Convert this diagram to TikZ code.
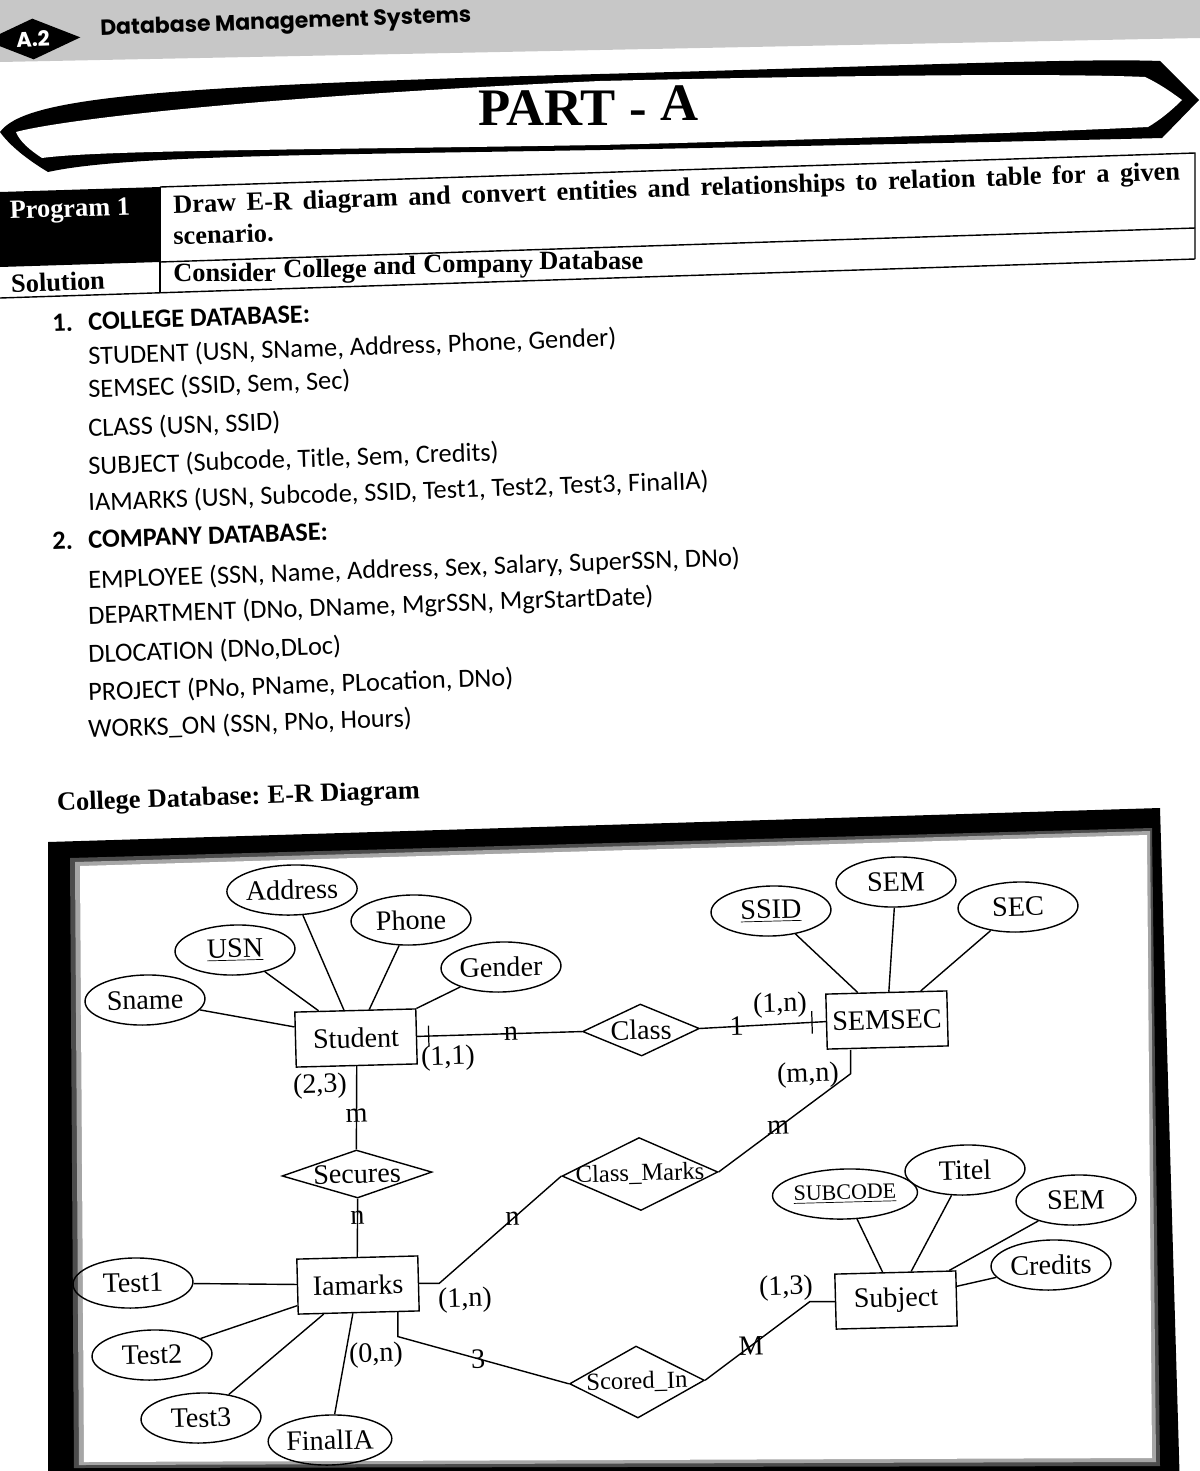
\documentclass[tikz,border=0pt]{standalone}
\usepackage{fontspec}
\setmainfont{Liberation Serif}
\newfontfamily\bodyfont{Carlito}
\newfontfamily\headfont{Poppins}
\usetikzlibrary{shapes.geometric, positioning}
\frenchspacing

\newcommand{\erfont}{\fontsize{16}{18}\selectfont}
\newcommand{\erfontsmall}{\fontsize{14}{16}\selectfont}
\newcommand{\sheetfont}{\bodyfont\fontsize{15}{18}\selectfont}
\newcommand{\cellfont}{\bfseries\fontsize{15}{18}\selectfont}

\tikzset{
  entity/.style={draw, rectangle, line width=0.8pt, minimum width=2.42cm, minimum height=1.1cm, inner sep=0pt, rotate=1.5, font=\erfont},
  attrib/.style={draw, ellipse, line width=0.8pt, minimum width=2.4cm, minimum height=1cm, inner sep=0pt, rotate=1.5, font=\erfont},
  rel/.style={draw, diamond, line width=0.8pt, inner sep=0pt, rotate=1.5, font=\erfont},
  card/.style={inner sep=0pt, rotate=1.5, font=\erfont},
  crossmark/.style={inner sep=0pt, rotate=1.5},
  link/.style={line width=0.8pt},
  listline/.style={anchor=west, inner sep=0pt, rotate=2, font=\sheetfont},
  cell/.style={inner sep=0pt, rotate=1.9, font=\cellfont},
  wordbox/.style={anchor=base west, inner sep=0pt, rotate=2, font=\cellfont},
  flatword/.style={anchor=base west, inner sep=0pt, font=\cellfont},
}

\begin{document}
\begin{tikzpicture}[x=0.02cm, y=-0.02cm]
  \useasboundingbox (0,0) rectangle (1200,1471);

  % page header
  \fill[black!22] (0,0) -- (1200,0) -- (1200,38) -- (0,62) -- cycle;
  \node[diamond, fill=black, text=white, minimum width=1.9cm, minimum height=0.82cm, inner sep=0pt, rotate=2, font=\headfont\bfseries\fontsize{12}{13}\selectfont] (badge) at (33,39) {\makebox[0pt]{A.2}};
  \node[anchor=west, inner sep=0pt, rotate=2, font=\headfont\bfseries\fontsize{12.5}{14}\selectfont] (booktitle) at (100,30) {Database Management Systems};

  % PART - A banner
  \fill[black] (0,132) .. controls (25,98) and (150,86) .. (600,74) .. controls (900,66) and (1080,58) .. (1160,61) -- (1199,100) -- (1162,138) .. controls (1000,142) and (800,146) .. (600,150) .. controls (300,155) and (120,156) .. (48,172) .. controls (28,160) and (10,146) .. (0,132) -- cycle;
  \fill[white] (16,132) .. controls (60,120) and (250,97) .. (600,81) .. controls (900,74) and (1080,74) .. (1145,77) .. controls (1162,85) and (1175,95) .. (1182,100) .. controls (1172,110) and (1160,120) .. (1148,127) .. controls (1000,134) and (800,140) .. (600,145) .. controls (300,150) and (100,150) .. (42,158) .. controls (30,150) and (20,142) .. (16,132) -- cycle;
  \node[flatword, font=\bfseries\fontsize{30}{32}\selectfont] (part1) at (478,125) {PART -};
  \node[flatword, font=\bfseries\fontsize{30}{32}\selectfont] (part2) at (660,120) {A};

  % program table
  \fill[black] (0,192) -- (160,187) -- (160,262) -- (0,267) -- cycle;
  \draw[line width=0.8pt] (160,187) -- (1195,153) -- (1195,259);
  \draw[line width=0.8pt] (160,262) -- (1195,228);
  \draw[line width=0.8pt] (0,298) -- (1195,259);
  \draw[line width=0.8pt] (160,187) -- (160,293);
  \node[cell, text=white] (prog) at (70,211) {Program 1};
  \node[cell] (sol) at (58,282) {Solution};
  \node[cell, anchor=west] (task) at (173,207) {\makebox[20.15cm][s]{Draw E-R diagram and convert entities and relationships to relation table for a given}};
  \node[cell, anchor=west] (task2) at (173,236) {scenario.};
  \node[flatword] (given1) at (173,281) {Consider};
  \node[flatword] (given2) at (283,277.4) {College};
  \node[flatword] (given3) at (373,274.4) {and};
  \node[flatword] (given4) at (423,272.8) {Company};
  \node[flatword] (given5) at (539,269) {Database};

  % relation schemas
  \node[listline, font=\sheetfont\bfseries] (college) at (52,323) {\makebox[0.72cm][l]{1.}COLLEGE DATABASE:};
  \node[listline] (rstudent) at (88,357) {STUDENT (USN, SName, Address, Phone, Gender)};
  \node[listline] (rsemsec) at (88,390) {SEMSEC (SSID, Sem, Sec)};
  \node[listline] (rclass) at (88,429) {CLASS (USN, SSID)};
  \node[listline] (rsubject) at (88,467) {SUBJECT (Subcode, Title, Sem, Credits)};
  \node[listline] (riamarks) at (88,503) {IAMARKS (USN, Subcode, SSID, Test1, Test2, Test3, FinalIA)};
  \node[listline, font=\sheetfont\bfseries] (company) at (52,541) {\makebox[0.72cm][l]{2.}COMPANY DATABASE:};
  \node[listline] (remployee) at (88,581) {EMPLOYEE (SSN, Name, Address, Sex, Salary, SuperSSN, DNo)};
  \node[listline] (rdept) at (88,617) {DEPARTMENT (DNo, DName, MgrSSN, MgrStartDate)};
  \node[listline] (rdloc) at (88,655) {DLOCATION (DNo,DLoc)};
  \node[listline] (rproject) at (88,693) {PROJECT (PNo, PName, PLocation, DNo)};
  \node[listline] (rworks) at (88,730) {WORKS\_ON (SSN, PNo, Hours)};

  % diagram caption
  \node[wordbox] (cap1) at (57,811) {College};
  \node[wordbox] (cap2) at (cap1.base east) {\ Database:};
  \node[wordbox] (cap3) at (cap2.base east) {\ E-R};
  \node[wordbox] (cap4) at (cap3.base east) {\ Diagram};

  % diagram frame
  \fill[black] (48,842) -- (1160,808) -- (1180,1490) -- (48,1490) -- cycle;
  \fill[black!70] (70,858) -- (1152,828) -- (1160,1466) -- (74,1468) -- cycle;
  \fill[black!35] (75,862) -- (1150,831) -- (1156,1462) -- (79,1465) -- cycle;
  \fill[white] (80,866) -- (1147,835) -- (1152,1458) -- (84,1462) -- cycle;

  % entities
  \node[entity] (stu) at (356,1038) {Student};
  \node[entity] (ssc) at (887,1020) {SEMSEC};
  \node[entity] (iam) at (358,1285) {Iamarks};
  \node[entity] (sub) at (896,1300) {Subject};

  % attributes
  \node[attrib] (sname) at (145,1000) {Sname};
  \node[attrib] (usn) at (235,950) {\underline{USN}};
  \node[attrib] (addr) at (292,890) {Address};
  \node[attrib] (phone) at (411,920) {Phone};
  \node[attrib] (gender) at (501,967) {Gender};
  \node[attrib] (ssid) at (771,911) {\underline{SSID}};
  \node[attrib] (sem) at (896,882) {SEM};
  \node[attrib] (sec) at (1018,907) {SEC};
  \node[attrib, font=\fontsize{12.5}{14}\selectfont] (subcode) at (845,1194) {\underline{SUBCODE}};
  \node[attrib] (titel) at (965,1170) {Titel};
  \node[attrib] (subsem) at (1076,1200) {SEM};
  \node[attrib] (credits) at (1051,1265) {Credits};
  \node[attrib] (test1) at (133,1283) {Test1};
  \node[attrib] (test2) at (152,1355) {Test2};
  \node[attrib] (test3) at (201,1418) {Test3};
  \node[attrib] (finalia) at (330,1440) {FinalIA};

  % relationships
  \node[rel, minimum width=2.34cm, minimum height=1.04cm] (class) at (641,1030) {\makebox[0pt]{Class}};
  \node[rel, minimum width=3cm, minimum height=0.96cm] (secures) at (357,1174) {\makebox[0pt]{Secures}};
  \node[rel, minimum width=3.12cm, minimum height=1.46cm, font=\erfontsmall] (cmk) at (640,1174) {\makebox[0pt]{Class\_Marks}};
  \node[rel, minimum width=2.7cm, minimum height=1.44cm, font=\erfontsmall] (sco) at (637,1382) {\makebox[0pt]{Scored\_In}};

  % attribute links
  \draw[link] (sname) -- (stu);
  \draw[link] (usn) -- (stu);
  \draw[link] (addr) -- (stu);
  \draw[link] (phone) -- (stu);
  \draw[link] (gender) -- (stu);
  \draw[link] (ssid) -- (ssc);
  \draw[link] (sem) -- (ssc);
  \draw[link] (sec) -- (ssc);
  \draw[link] (subcode) -- (sub);
  \draw[link] (titel) -- (sub);
  \draw[link] (subsem) -- (sub);
  \draw[link] (credits) -- (sub);
  \draw[link] (test1) -- (iam);
  \draw[link] (test2) -- (iam);
  \draw[link] (test3) -- (iam);
  \draw[link] (finalia) -- (iam);

  % relationship links
  \draw[link] (stu.east) -- node[crossmark, pos=.07] {\rule{0.7pt}{0.42cm}} node[card, pos=.57] {n} (class.west);
  \draw[link] (class.east) -- node[card, pos=.29] {1} node[crossmark, pos=.89] {\rule{0.7pt}{0.45cm}} (ssc.west);
  \draw[link] (stu.south) -- node[card, pos=.59] {m} (secures.north);
  \draw[link] (secures.south) -- node[card, pos=.33] {n} (iam.north);
  \draw[link] (iam.east) -- ++(20,0) -- node[card, pos=.6] {n} (cmk.west);
  \draw[link] (ssc.south west) ++(24,0) -- ++(0,24) -- node[card, pos=.55] {m} (cmk.east);
  \draw[link] (iam.south east) ++(-22,0) -- ++(0,25) -- node[card, pos=.47] {3} (sco.west);
  \draw[link] (sub.west) -- ++(-25,0) -- node[card, pos=.56] {M} (sco.east);

  % cardinalities
  \node[card] (stuclass) at (448,1058) {(1,1)};
  \node[card] (sscclass) at (780,1005) {(1,n)};
  \node[card] (stusecures) at (320,1086) {(2,3)};
  \node[card] (iamcmk) at (465,1300) {(1,n)};
  \node[card] (ssccmk) at (808,1075) {(m,n)};
  \node[card] (iamsco) at (376,1355) {(0,n)};
  \node[card] (subsco) at (786,1288) {(1,3)};
\end{tikzpicture}
\end{document}
